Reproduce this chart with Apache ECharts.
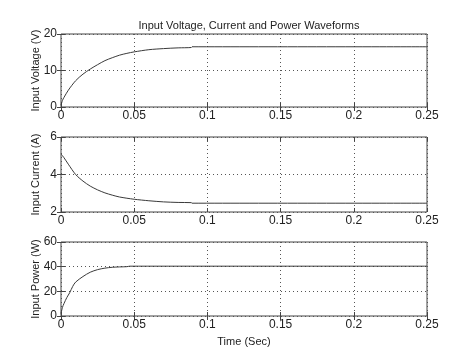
<!DOCTYPE html>
<html><head><meta charset="utf-8">
<script src="https://cdn.jsdelivr.net/npm/echarts@6/dist/echarts.min.js"></script>
<style>html,body{margin:0;padding:0;background:#fff}#c{width:474px;height:354px}</style>
</head><body><div id="c"></div>
<script>
var titleText = 'Input Voltage, Current and Power Waveforms';
var xName = 'Time (Sec)';
var yNames = ['Input Voltage (V)', 'Input Current (A)', 'Input Power (W)'];
var xTicks = [0, 0.05, 0.1, 0.15, 0.2, 0.25];

var voltageT = [0, 0.001, 0.002, 0.005, 0.01, 0.015, 0.02, 0.025, 0.03, 0.035, 0.04, 0.045, 0.05, 0.06, 0.07, 0.08, 0.089, 0.0895, 0.25];
var voltageV = [0.5, 1.8, 2.6, 4.6, 7.2, 9.0, 10.4, 11.6, 12.7, 13.5, 14.2, 14.7, 15.1, 15.7, 16.0, 16.2, 16.3, 16.5, 16.5];

var currentT = [0, 0.001, 0.002, 0.005, 0.01, 0.015, 0.02, 0.025, 0.03, 0.035, 0.04, 0.05, 0.06, 0.07, 0.08, 0.089, 0.0895, 0.25];
var currentA = [5.1, 5.0, 4.9, 4.55, 4.0, 3.65, 3.38, 3.18, 3.02, 2.9, 2.8, 2.68, 2.6, 2.54, 2.51, 2.5, 2.47, 2.47];

var powerT = [0, 0.001, 0.002, 0.004, 0.006, 0.008, 0.01, 0.015, 0.02, 0.025, 0.03, 0.035, 0.04, 0.045, 0.047, 0.25];
var powerW = [2, 7, 10, 15, 19, 24, 27.5, 32, 35.5, 37.6, 38.8, 39.5, 39.8, 40.0, 40.4, 40.4];

var yRanges = [[0, 20, 10], [2, 6, 2], [0, 60, 20]];

function pairs(t, v) { return t.map(function (x, i) { return [x, v[i]]; }); }
var seriesData = [pairs(voltageT, voltageV), pairs(currentT, currentA), pairs(powerT, powerW)];

var font = 'Arial, "Liberation Sans", Helvetica, sans-serif';
var gridsPos = [{top: 34, height: 73}, {top: 137, height: 75}, {top: 242, height: 74}];
var grids = [], xAxes = [], yAxes = [], series = [];
gridsPos.forEach(function (g, i) {
  grids.push({left: 61, right: 47, top: g.top, height: g.height, show: true, borderColor: '#444', borderWidth: 1, backgroundColor: '#fff'});
  var xbase = {type: 'value', gridIndex: i, min: 0, max: 0.25, interval: 0.05,
    axisLine: {show: false}, axisTick: {show: true, inside: true, length: 4, lineStyle: {color: '#444'}}};
  xAxes.push(Object.assign({}, xbase, {position: 'bottom',
    name: i === 2 ? xName : '', nameLocation: 'middle', nameGap: 20, nameMoveOverlap: false,
    nameTextStyle: {fontFamily: font, fontSize: 11, color: '#222'},
    axisLabel: {show: true, fontFamily: font, fontSize: 12, color: '#222', margin: 3,
      formatter: function (v) { return String(+v.toFixed(2)); }},
    splitLine: {show: true, lineStyle: {type: [1, 3], color: '#555', width: 1}}}));
  xAxes.push(Object.assign({}, xbase, {position: 'top', axisLabel: {show: false}, splitLine: {show: false}}));
  var r = yRanges[i];
  var ybase = {type: 'value', gridIndex: i, min: r[0], max: r[1], interval: r[2],
    axisLine: {show: false}, axisTick: {show: true, inside: true, length: 4, lineStyle: {color: '#444'}}};
  yAxes.push(Object.assign({}, ybase, {position: 'left',
    name: yNames[i], nameLocation: 'middle', nameGap: 20, nameRotate: 90, nameMoveOverlap: false,
    nameTextStyle: {fontFamily: font, fontSize: 11, color: '#222'},
    axisLabel: {show: true, fontFamily: font, fontSize: 12, color: '#222', margin: 4},
    splitLine: {show: true, lineStyle: {type: [1, 3], color: '#555', width: 1}}}));
  yAxes.push(Object.assign({}, ybase, {position: 'right', axisLabel: {show: false}, splitLine: {show: false}}));
  series.push({type: 'line', xAxisIndex: 2 * i, yAxisIndex: 2 * i, data: seriesData[i],
    showSymbol: false, smooth: 0.3, lineStyle: {color: '#3a3a3a', width: 1}, animation: false, z: 5});
});

var chart = echarts.init(document.getElementById('c'), null, {renderer: 'canvas'});
chart.setOption({
  animation: false,
  backgroundColor: '#fff',
  title: {text: titleText, left: 244, textAlign: 'center', top: 15,
    textStyle: {fontFamily: font, fontSize: 11, fontWeight: 'normal', color: '#222'}},
  grid: grids, xAxis: xAxes, yAxis: yAxes, series: series
});
</script></body></html>
